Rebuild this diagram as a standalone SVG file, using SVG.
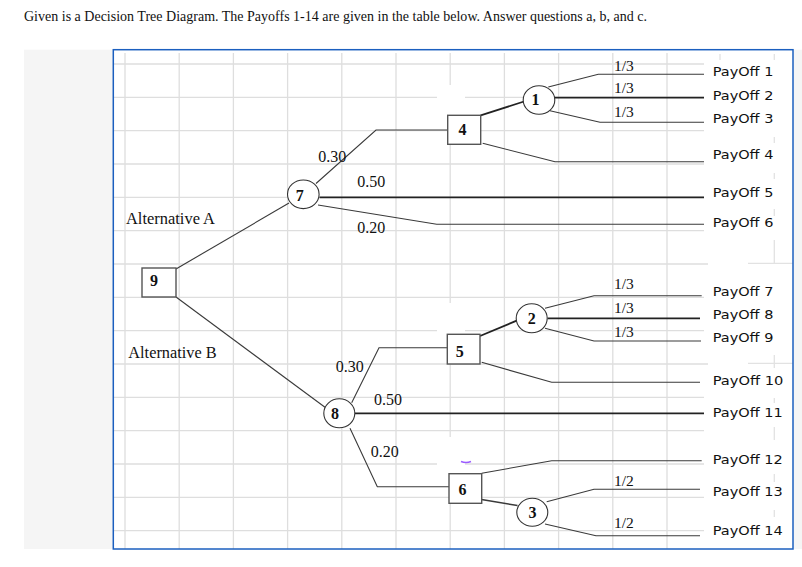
<svg xmlns="http://www.w3.org/2000/svg" width="802" height="567" viewBox="0 0 802 567">
<style>
.grid{stroke:#dedede;stroke-width:1.3;fill:none}
.tick{stroke:#e2e2e2;stroke-width:1.3;fill:none}
.edge{stroke:#3a3a3a;stroke-width:1.1;fill:none}
.thick{stroke:#222;stroke-width:1.8;fill:none}
.sq{fill:#fff;stroke:#555;stroke-width:1.4}
.ci{fill:#fff;stroke:#333;stroke-width:1.1}
.nl{font-family:"Liberation Serif",serif;font-weight:bold;font-size:16px;fill:#111;text-anchor:middle}
.pl{font-family:"Liberation Serif",serif;font-size:16px;fill:#111}
.fl{font-family:"Liberation Serif",serif;font-size:15.5px;fill:#111}
.al{font-family:"Liberation Serif",serif;font-size:16.5px;fill:#111}
.po{font-family:"DejaVu Sans",sans-serif;font-size:11.8px;fill:#111}
</style>
<rect width="802" height="567" fill="#fff"/>
<text x="24" y="20.7" font-family="Liberation Serif, serif" font-size="14.6" fill="#111" textLength="623" lengthAdjust="spacingAndGlyphs">Given is a Decision Tree Diagram. The Payoffs 1-14 are given in the table below. Answer questions a, b, and c.</text>
<rect x="24" y="49.7" width="778" height="499.3" fill="#f5f5f5"/>
<rect x="113.3" y="49.7" width="679.7" height="499.3" fill="#fff"/>
<g id="grid">
<path class="grid" d="M125,53V549M179.2,53V549M233.4,53V549M287.6,53V549M341.8,53V549M396,53V549M450.2,53V549M504.4,53V549M558.6,53V549M612.8,53V549M667,53V549"/>
<path class="grid" d="M113.3,64H704M113.3,97.3H704M113.3,130.7H704M113.3,164H704M113.3,197.3H704M113.3,230.7H704M113.3,264H708M113.3,297.3H704M113.3,330.7H704M113.3,364H708M113.3,397.3H704M113.3,430.7H704M113.3,464H704M113.3,497.3H704M113.3,530.7H704"/>
<path class="tick" d="M720,54V60M774.3,54V60M774.3,137V143M774.3,173V179M774.3,209V216M774.3,240V264M748,263.3H793M774.3,355V368M748,363.3H793M774.3,398V403M774.3,427V440M774.3,474V482M774.3,510V517"/>
<rect x="437" y="85" width="28" height="30" fill="#fff"/>
<rect x="437" y="303" width="28" height="31" fill="#fff"/>
<rect x="437" y="437" width="28" height="36" fill="#fff"/>
</g>
<rect x="113.3" y="49.7" width="679.7" height="499.3" fill="none" stroke="#1b5fbf" stroke-width="1.5"/>
<path d="M461,461.5Q466,463.5 471,461.5" stroke="#9b5cff" stroke-width="1.6" fill="none"/>
<g id="connectors">
<path class="edge" d="M176,269L289,203"/>
<path class="edge" d="M176,297L326,408"/>
<path class="edge" d="M316,183.5L376,130H447.7"/>
<path class="thick" d="M319.5,197.3H704"/>
<path class="edge" d="M318,205L436.7,224.3H704"/>
<path class="thick" d="M480.7,115.3L524,101.5"/>
<path class="edge" d="M482.7,143.3L555,161.7H704"/>
<path class="edge" d="M548.3,87L598.3,74.3H704"/>
<path class="thick" d="M555,97.7H704"/>
<path class="edge" d="M550,110.7L600,122.3H704"/>
<path class="edge" d="M351.7,402.7L379,347.7H447.3"/>
<path class="thick" d="M480,336L516.7,320.7"/>
<path class="edge" d="M481.7,362.3L551.7,382.3H700"/>
<path class="edge" d="M545,308.3L594,295.7H701.7"/>
<path class="thick" d="M547.5,318.3H700"/>
<path class="edge" d="M545,328.3L594,341H701"/>
<path class="thick" d="M355,413.3H704"/>
<path class="edge" d="M350,428.3L377.3,486.7H449"/>
<path class="edge" d="M481.7,473.3L551.7,460.7H701.7"/>
<path class="edge" style="stroke-width:1.4" d="M480,499.3L517.5,505.5"/>
<path class="edge" d="M546.7,501.7L594,489.3H700"/>
<path class="edge" d="M545,524L596,535.7H700"/>
</g>
<g id="node9"><rect class="sq" x="142" y="268" width="34" height="29"/><text class="nl" x="154" y="285.7">9</text></g>
<g id="node7"><ellipse class="ci" cx="303.3" cy="194.3" rx="15.8" ry="14.3"/><text class="nl" x="299.7" y="200.7">7</text></g>
<g id="node4"><rect class="sq" x="447.7" y="115.3" width="33" height="29"/><text class="nl" x="462.5" y="135">4</text></g>
<g id="node1"><ellipse class="ci" cx="539" cy="100" rx="15.8" ry="14.2"/><text class="nl" x="535.5" y="105">1</text></g>
<g id="node8"><ellipse class="ci" cx="339.3" cy="413.3" rx="15.5" ry="14.5"/><text class="nl" x="335" y="419.3">8</text></g>
<g id="node5"><rect class="sq" x="447.3" y="334.3" width="32.7" height="29.7"/><text class="nl" x="459.8" y="356.7">5</text></g>
<g id="node2"><ellipse class="ci" cx="531.7" cy="318.3" rx="15.5" ry="14.5"/><text class="nl" x="531.7" y="324">2</text></g>
<g id="node6"><rect class="sq" x="449" y="473.7" width="32.7" height="29.6"/><text class="nl" x="462.5" y="495">6</text></g>
<g id="node3"><ellipse class="ci" cx="532.3" cy="512.3" rx="15.5" ry="14"/><text class="nl" x="532.5" y="518.3">3</text></g>
<g id="labels">
<text class="al" x="126" y="224" textLength="89" lengthAdjust="spacingAndGlyphs">Alternative A</text>
<text class="al" x="128.3" y="357.7" textLength="88.4" lengthAdjust="spacingAndGlyphs">Alternative B</text>
<text class="pl" x="318.3" y="161.7">0.30</text>
<text class="pl" x="357.3" y="186.7">0.50</text>
<text class="pl" x="357.3" y="232.7">0.20</text>
<text class="pl" x="335.7" y="371.7">0.30</text>
<text class="pl" x="374" y="405">0.50</text>
<text class="pl" x="370.7" y="456.7">0.20</text>
<text class="fl" x="614" y="70.7">1/3</text>
<text class="fl" x="614" y="93.3">1/3</text>
<text class="fl" x="614" y="117.3">1/3</text>
<text class="fl" x="614" y="289.3">1/3</text>
<text class="fl" x="614" y="312.7">1/3</text>
<text class="fl" x="614" y="337.3">1/3</text>
<text class="fl" x="614" y="486">1/2</text>
<text class="fl" x="614" y="528.3">1/2</text>
</g>
<g id="payoffs">
<text class="po" x="712.7" y="76" textLength="60.7" lengthAdjust="spacingAndGlyphs">PayOff 1</text>
<text class="po" x="712.7" y="100" textLength="60.7" lengthAdjust="spacingAndGlyphs">PayOff 2</text>
<text class="po" x="712.7" y="123.3" textLength="60.7" lengthAdjust="spacingAndGlyphs">PayOff 3</text>
<text class="po" x="712.7" y="159.3" textLength="60.7" lengthAdjust="spacingAndGlyphs">PayOff 4</text>
<text class="po" x="712.7" y="196.7" textLength="60.7" lengthAdjust="spacingAndGlyphs">PayOff 5</text>
<text class="po" x="712.7" y="227.3" textLength="60.7" lengthAdjust="spacingAndGlyphs">PayOff 6</text>
<text class="po" x="712.7" y="295.7" textLength="60.7" lengthAdjust="spacingAndGlyphs">PayOff 7</text>
<text class="po" x="712.7" y="319.3" textLength="60.7" lengthAdjust="spacingAndGlyphs">PayOff 8</text>
<text class="po" x="712.7" y="341.7" textLength="60.7" lengthAdjust="spacingAndGlyphs">PayOff 9</text>
<text class="po" x="712.7" y="385.3" textLength="70.7" lengthAdjust="spacingAndGlyphs">PayOff 10</text>
<text class="po" x="712.7" y="417.3" textLength="70" lengthAdjust="spacingAndGlyphs">PayOff 11</text>
<text class="po" x="712.7" y="464" textLength="70" lengthAdjust="spacingAndGlyphs">PayOff 12</text>
<text class="po" x="712.7" y="495.7" textLength="70" lengthAdjust="spacingAndGlyphs">PayOff 13</text>
<text class="po" x="712.7" y="535" textLength="70" lengthAdjust="spacingAndGlyphs">PayOff 14</text>
</g>
</svg>
